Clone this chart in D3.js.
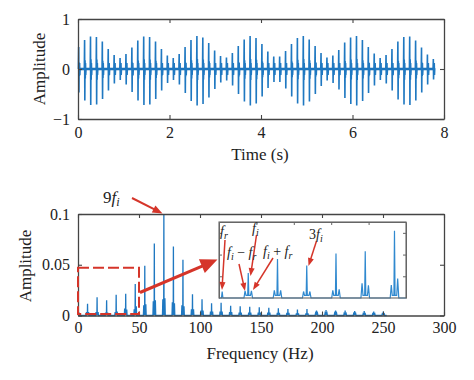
<!DOCTYPE html>
<html><head><meta charset="utf-8">
<script src="https://cdn.jsdelivr.net/npm/d3@7/dist/d3.min.js"></script>
<style>
body{margin:0;background:#fff}
svg{display:block}
text{font-family:"Liberation Serif","DejaVu Serif",serif;fill:#222}
</style>
</head><body><svg id="c" width="474" height="380"></svg>
<script>
// ---------- data ----------
const timeTicks = [0, 2, 4, 6, 8];
const ampTicks = [-1, 0, 1];
const freqTicks = [0, 50, 100, 150, 200, 250, 300];
const specTicks = [0, 0.05, 0.1];
const insetYTicks = [0.01, 0.02, 0.03];
const insetXTicks = [10, 20, 30, 40];

const pulseStart = 0.015, pulseInterval = 0.1292, signalEnd = 7.78;
const pulsePos = [0.44,0.58,0.65,0.64,0.55,0.40,0.28,0.22,0.30,
  0.43,0.57,0.65,0.64,0.55,0.40,0.27,0.22,0.30,
  0.44,0.58,0.66,0.63,0.52,0.37,0.26,0.23,0.32,
  0.46,0.59,0.66,0.62,0.50,0.35,0.25,0.25,0.36,
  0.50,0.62,0.66,0.59,0.46,0.32,0.23,0.27,0.38,
  0.53,0.63,0.66,0.58,0.44,0.31,0.22,0.28,0.40,
  0.55,0.64,0.65,0.57,0.43,0.29,0.20];
const pulseNeg = [0.47,0.63,0.72,0.71,0.60,0.43,0.29,0.22,0.31,
  0.46,0.63,0.72,0.71,0.60,0.43,0.28,0.22,0.31,
  0.48,0.64,0.73,0.70,0.57,0.40,0.27,0.23,0.33,
  0.50,0.65,0.73,0.69,0.55,0.38,0.26,0.26,0.39,
  0.55,0.69,0.73,0.65,0.50,0.34,0.23,0.28,0.41,
  0.58,0.70,0.73,0.64,0.48,0.33,0.22,0.29,0.43,
  0.61,0.71,0.72,0.63,0.47,0.31,0.21];

const harmonicFreq = [7.82,15.64,23.46,31.28,39.10,46.92,54.74,62.56,70.38,78.20,
  86.02,93.84,101.66,109.48,117.30,125.12,132.94,140.76,148.58,156.40,
  164.22,172.04,179.86,187.68,195.50,203.32,211.14,218.96,226.78,234.60,242.42,250.24];
const harmonicAmp = [0.0115,0.018,0.015,0.0205,0.0215,0.031,0.049,0.071,0.100,0.068,
  0.055,0.021,0.016,0.012,0.0125,0.0095,0.009,0.0085,0.008,0.0075,
  0.007,0.0065,0.006,0.0065,0.005,0.0055,0.005,0.005,0.0045,0.0045,0.004,0.004];
const sideLow = [0.0033,0.0035,0.003,0.0035,0.0068,0.006,0.010,0.014,0.016,0.013,
  0.010,0.006,0.005,0.004,0.004,0.0035,0.003,0.003,0.003,0.0028,
  0.0025,0.0025,0.0022,0.0022,0.002,0.002,0.002,0.0018,0.0018,0.0016,0.0016,0.0015];
const sideHigh = [0.0033,0.0035,0.003,0.004,0.0058,0.009,0.011,0.015,0.017,0.012,
  0.009,0.006,0.005,0.004,0.004,0.0035,0.003,0.003,0.003,0.0028,
  0.0025,0.0025,0.0022,0.0022,0.002,0.002,0.002,0.0018,0.0018,0.0016,0.0016,0.0015];
const rotFreq = 0.85, rotAmp = 0.003, humpLevel = 0.0012, spectrumEnd = 253;
const zoomBox = [0, 50, 0, 0.047]; // f0, f1, a0, a1

// ---------- drawing ----------
const svg = d3.select('#c');
const AX = '#444', BLUE = '#1f78c1', RED = '#d5352a';

function boxAxes(x, y, xT, yT, xFmt, yFmt, xPad, yPad, tick) {
  const [x0, x1] = x.range(), [y0, y1] = y.range();
  const g = svg.append('g');
  const b = g.append('g').attr('transform', `translate(0,${y0})`)
    .call(d3.axisBottom(x).tickValues(xT).tickFormat(xFmt).tickSizeInner(-tick).tickSizeOuter(0).tickPadding(xPad));
  const t = g.append('g').attr('transform', `translate(0,${y1})`)
    .call(d3.axisTop(x).tickValues(xT).tickFormat('').tickSizeInner(-tick).tickSizeOuter(0));
  const l = g.append('g').attr('transform', `translate(${x0},0)`)
    .call(d3.axisLeft(y).tickValues(yT).tickFormat(yFmt).tickSizeInner(-tick).tickSizeOuter(0).tickPadding(yPad));
  const r = g.append('g').attr('transform', `translate(${x1},0)`)
    .call(d3.axisRight(y).tickValues(yT).tickFormat('').tickSizeInner(-tick).tickSizeOuter(0));
  g.selectAll('.domain').attr('stroke', AX).attr('stroke-width', 1.3);
  g.selectAll('.tick line').attr('stroke', AX).attr('stroke-width', 1.1);
  g.selectAll('text').attr('font-size', 16).attr('font-family', '"Liberation Serif",serif').attr('fill', '#222');
  return g;
}

// ---- top: time signal ----
const xTime = d3.scaleLinear().domain([0, 8]).range([78, 444]);
const yAmp = d3.scaleLinear().domain([-1, 1]).range([119, 19]);
const sig = [[0, 0]];
pulsePos.forEach((p, i) => {
  const t = pulseStart + i * pulseInterval, n = pulseNeg[i];
  sig.push([t - 0.006, 0], [t, p], [t + 0.005, -n], [t + 0.010, 0.3 * p], [t + 0.015, -0.3 * n],
           [t + 0.020, 0.12], [t + 0.025, -0.12], [t + 0.030, 0]);
});
sig.push([signalEnd, 0]);
svg.append('line').attr('x1', xTime(0)).attr('x2', xTime(signalEnd))
  .attr('y1', yAmp(0)).attr('y2', yAmp(0)).attr('stroke', '#1468ad').attr('stroke-width', 2.6);
svg.append('path').datum(sig)
  .attr('d', d3.line().x(d => xTime(d[0])).y(d => yAmp(d[1])))
  .attr('fill', 'none').attr('stroke', BLUE).attr('stroke-width', 1.6).attr('stroke-linejoin', 'miter');
boxAxes(xTime, yAmp, timeTicks, ampTicks, d3.format('d'), d => d3.format('d')(d), 8, 8, 4);
svg.append('text').attr('x', 260).attr('y', 160).attr('text-anchor', 'middle').attr('font-size', 17).text('Time (s)');
svg.append('text').attr('transform', 'translate(45,69) rotate(-90)').attr('text-anchor', 'middle').attr('font-size', 17).text('Amplitude');

// ---- bottom: spectrum ----
const spec = [[0, 0], [rotFreq - 0.2, 0], [rotFreq, rotAmp], [rotFreq + 0.2, 0]];
harmonicFreq.forEach((f, k) => {
  spec.push([f - rotFreq - 0.3, 0], [f - rotFreq, sideLow[k]], [f - rotFreq + 0.25, humpLevel],
            [f - 0.15, humpLevel], [f, harmonicAmp[k]], [f + 0.15, humpLevel],
            [f + rotFreq - 0.25, humpLevel], [f + rotFreq, sideHigh[k]], [f + rotFreq + 0.3, 0]);
});
spec.push([spectrumEnd, 0]);

const xFreq = d3.scaleLinear().domain([0, 300]).range([78, 444]);
const ySpec = d3.scaleLinear().domain([0, 0.1]).range([315.5, 214]);
svg.append('path').datum(spec)
  .attr('d', d3.line().x(d => xFreq(d[0])).y(d => ySpec(d[1])))
  .attr('fill', 'none').attr('stroke', BLUE).attr('stroke-width', 1.3);
boxAxes(xFreq, ySpec, freqTicks, specTicks, d3.format('d'), d => d === 0 ? '0' : String(d), 6, 8, 4);
svg.append('text').attr('x', 260).attr('y', 359).attr('text-anchor', 'middle').attr('font-size', 17).text('Frequency (Hz)');
svg.append('text').attr('transform', 'translate(31,266) rotate(-90)').attr('text-anchor', 'middle').attr('font-size', 17).text('Amplitude');

// dashed zoom box
svg.append('rect')
  .attr('x', xFreq(zoomBox[0])).attr('y', ySpec(zoomBox[3]))
  .attr('width', xFreq(zoomBox[1]) - xFreq(zoomBox[0])).attr('height', ySpec(zoomBox[2]) - ySpec(zoomBox[3]) - 1.5)
  .attr('fill', 'none').attr('stroke', RED).attr('stroke-width', 2).attr('stroke-dasharray', '11,4');

// ---- inset ----
const xIn = d3.scaleLinear().domain([0, 50]).range([219, 406]);
const yIn = d3.scaleLinear().domain([0, 0.035]).range([298, 222]);
svg.append('rect').attr('x', 219).attr('y', 222).attr('width', 187).attr('height', 76).attr('fill', '#fff');
svg.append('clipPath').attr('id', 'inclip').append('rect').attr('x', 219).attr('y', 220).attr('width', 187).attr('height', 79);
svg.append('path').datum(spec).attr('clip-path', 'url(#inclip)')
  .attr('d', d3.line().x(d => xIn(d[0])).y(d => yIn(d[1])))
  .attr('fill', 'none').attr('stroke', '#3089cf').attr('stroke-width', 1.2);
const gi = svg.append('g');
gi.append('g').attr('transform', 'translate(406,0)').call(d3.axisRight(yIn).tickValues(insetYTicks).tickFormat('').tickSizeInner(-3).tickSizeOuter(0));
gi.append('g').attr('transform', 'translate(219,0)').call(d3.axisLeft(yIn).tickValues(insetYTicks).tickFormat('').tickSizeInner(-3).tickSizeOuter(0));
gi.append('g').attr('transform', 'translate(0,222)').call(d3.axisTop(xIn).tickValues(insetXTicks).tickFormat('').tickSizeInner(-3).tickSizeOuter(0));
gi.selectAll('.domain').attr('stroke', '#666').attr('stroke-width', 1);
gi.selectAll('.tick line').attr('stroke', '#666');
svg.append('rect').attr('x', 219).attr('y', 222).attr('width', 187).attr('height', 76)
  .attr('fill', 'none').attr('stroke', '#666').attr('stroke-width', 1.1);

// ---- arrows ----
function arrow(x1, y1, x2, y2, w, hl, hw) {
  const dx = x2 - x1, dy = y2 - y1, L = Math.hypot(dx, dy), ux = dx / L, uy = dy / L;
  const bx = x2 - ux * hl, by = y2 - uy * hl;
  svg.append('line').attr('x1', x1).attr('y1', y1).attr('x2', bx + ux * 1).attr('y2', by + uy * 1)
    .attr('stroke', RED).attr('stroke-width', w);
  svg.append('path').attr('d', `M${x2},${y2}L${bx - uy * hw / 2},${by + ux * hw / 2}L${bx + uy * hw / 2},${by - ux * hw / 2}Z`)
    .attr('fill', RED);
}
arrow(140, 292.5, 217.5, 259.5, 3, 17, 15);
arrow(132, 198, 162.5, 213.5, 2, 10, 8);
arrow(225, 240, 222, 290, 1.5, 8, 6);
arrow(239, 264, 245, 291, 1.5, 8, 6);
arrow(256.5, 235, 250.5, 276, 1.5, 8, 6);
arrow(273, 258, 253, 290, 1.5, 8, 6);
arrow(316.5, 241, 308.5, 266, 1.5, 8, 6);

// ---- math labels ----
function mlabel(x, y, size, parts) {
  const t = svg.append('text').attr('x', x).attr('y', y).attr('font-size', size).attr('fill', '#333');
  parts.forEach(p => {
    const s = t.append('tspan').text(p[0]);
    if (p[1] === 'i') s.attr('font-style', 'italic');
    if (p[1] === 's') s.attr('font-style', 'italic').attr('font-size', size * 0.72).attr('baseline-shift', '-28%');
  });
}
mlabel(103, 203, 17, [['9'], ['f', 'i'], ['i', 's']]);
mlabel(220, 236, 14, [['f', 'i'], ['r', 's']]);
mlabel(252, 233, 14, [['f', 'i'], ['i', 's']]);
mlabel(227, 257, 14, [['f', 'i'], ['i', 's'], [' − '], ['f', 'i'], ['r', 's']]);
mlabel(263, 256, 14, [['f', 'i'], ['i', 's'], [' + '], ['f', 'i'], ['r', 's']]);
mlabel(309, 239, 14, [['3'], ['f', 'i'], ['i', 's']]);
</script>
</body></html>
